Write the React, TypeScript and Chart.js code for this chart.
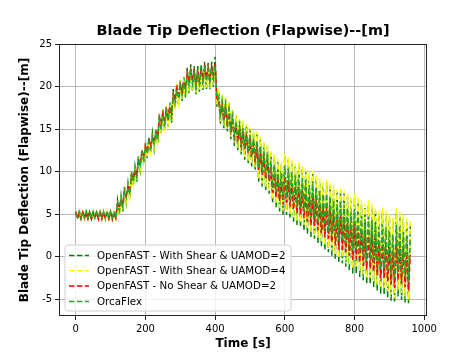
import React, { useEffect, useRef } from "react";
import { Chart, registerables } from "chart.js";

Chart.register(...registerables);

const FONT = "'DejaVu Sans', Verdana, sans-serif";

const TIME = [
  0, 5, 10, 15, 20, 25, 30, 35,
  40, 45, 50, 55, 60, 65, 70, 75,
  80, 85, 90, 95, 100, 105, 110, 115,
  120, 125, 130, 135, 140, 145, 150, 155,
  160, 165, 170, 175, 180, 185, 190, 195,
  200, 205, 210, 215, 220, 225, 230, 235,
  240, 245, 250, 255, 260, 265, 270, 275,
  280, 285, 290, 295, 300, 305, 310, 315,
  320, 325, 330, 335, 340, 345, 350, 355,
  360, 365, 370, 375, 380, 385, 390, 395,
  400, 405, 410, 415, 420, 425, 430, 435,
  440, 445, 450, 455, 460, 465, 470, 475,
  480, 485, 490, 495, 500, 505, 510, 515,
  520, 525, 530, 535, 540, 545, 550, 555,
  560, 565, 570, 575, 580, 585, 590, 595,
  600, 605, 610, 615, 620, 625, 630, 635,
  640, 645, 650, 655, 660, 665, 670, 675,
  680, 685, 690, 695, 700, 705, 710, 715,
  720, 725, 730, 735, 740, 745, 750, 755,
  760, 765, 770, 775, 780, 785, 790, 795,
  800, 805, 810, 815, 820, 825, 830, 835,
  840, 845, 850, 855, 860, 865, 870, 875,
  880, 885, 890, 895, 900, 905, 910, 915,
  920, 925, 930, 935, 940, 945, 950, 955,
  960,
];

const OF_SHEAR_UA2 = [
  5.3, 4.5, 5.4, 4.4, 5.3, 4.5, 5.4, 4.5,
  5.3, 4.4, 5.4, 4.5, 5.3, 4.4, 5.4, 4.5,
  5.3, 4.4, 5.4, 4.5, 5.3, 4.4, 5.4, 4.5,
  6.6, 4.9, 7.1, 5.3, 8.2, 6.4, 8.6, 6.8,
  10.0, 8.3, 10.6, 8.8, 11.8, 10.2, 12.6, 10.9,
  13.4, 11.6, 14.0, 12.2, 14.5, 12.7, 15.0, 13.2,
  16.8, 14.5, 17.3, 14.9, 17.7, 15.3, 18.1, 15.7,
  19.7, 17.4, 20.3, 17.9, 20.7, 18.3, 21.1, 18.7,
  22.2, 19.2, 22.6, 19.4, 22.4, 19.1, 22.4, 19.4,
  22.6, 19.6, 22.9, 19.7, 22.8, 19.6, 22.9, 20.0,
  23.5, 17.6, 19.5, 15.6, 18.9, 15.1, 18.5, 14.7,
  18.0, 13.8, 17.1, 13.0, 16.5, 12.5, 16.0, 12.0,
  15.8, 11.4, 15.4, 11.0, 15.0, 10.6, 14.6, 10.2,
  14.4, 8.8, 13.8, 8.2, 13.3, 7.8, 12.9, 7.4,
  12.2, 6.3, 11.7, 5.8, 11.2, 5.3, 10.8, 4.9,
  11.8, 4.9, 11.4, 4.5, 11.0, 4.1, 10.6, 3.7,
  10.7, 3.5, 10.3, 3.1, 9.9, 2.7, 9.5, 2.3,
  9.7, 2.1, 9.2, 1.6, 8.8, 1.2, 8.4, 0.8,
  8.7, 0.5, 8.3, 0.1, 7.9, -0.3, 7.5, -0.7,
  7.8, -0.8, 7.4, -1.2, 7.0, -1.6, 6.6, -2.0,
  6.9, -2.0, 6.5, -2.4, 6.1, -2.8, 5.7, -3.2,
  6.1, -3.2, 5.7, -3.6, 5.3, -4.0, 4.9, -4.4,
  5.3, -4.4, 4.9, -4.8, 4.5, -5.2, 4.1, -5.3,
  5.2, -4.7, 4.8, -5.1, 4.4, -5.4, 4.0, -5.5,
  3.7,
];

const OF_SHEAR_UA4 = [
  5.2, 4.4, 5.3, 4.5, 5.2, 4.4, 5.3, 4.5,
  5.2, 4.4, 5.3, 4.5, 5.2, 4.4, 5.3, 4.4,
  5.2, 4.5, 5.3, 4.4, 5.2, 4.5, 5.3, 4.4,
  6.1, 5.0, 6.6, 5.4, 7.7, 6.5, 8.1, 6.9,
  9.5, 8.4, 10.1, 8.9, 11.3, 10.3, 12.1, 11.0,
  12.9, 11.7, 13.5, 12.3, 14.0, 12.8, 14.5, 13.3,
  16.2, 14.7, 16.7, 15.1, 17.1, 15.5, 17.5, 15.9,
  19.1, 17.6, 19.7, 18.1, 20.1, 18.5, 20.5, 18.9,
  21.4, 19.4, 21.8, 19.6, 21.6, 19.3, 21.6, 19.6,
  21.8, 19.8, 22.1, 19.9, 22.0, 19.8, 22.1, 20.2,
  22.6, 17.9, 19.7, 15.9, 19.1, 15.4, 18.7, 15.0,
  18.2, 14.1, 17.3, 13.3, 16.7, 12.8, 16.2, 12.3,
  16.0, 11.7, 15.6, 11.3, 15.2, 10.9, 14.8, 10.5,
  14.7, 9.2, 14.1, 8.6, 13.6, 8.2, 13.2, 7.8,
  12.5, 6.8, 12.0, 6.3, 11.5, 5.8, 11.1, 5.4,
  12.1, 5.4, 11.7, 5.0, 11.3, 4.6, 10.9, 4.2,
  11.1, 4.1, 10.7, 3.7, 10.3, 3.3, 9.9, 2.9,
  10.1, 2.7, 9.6, 2.2, 9.2, 1.8, 8.8, 1.4,
  9.1, 1.1, 8.7, 0.7, 8.3, 0.3, 7.9, -0.1,
  8.2, -0.1, 7.8, -0.5, 7.4, -0.9, 7.0, -1.3,
  7.4, -1.3, 7.0, -1.7, 6.6, -2.1, 6.2, -2.5,
  6.6, -2.5, 6.2, -2.9, 5.8, -3.3, 5.4, -3.7,
  5.8, -3.7, 5.4, -4.1, 5.0, -4.5, 4.6, -4.9,
  5.7, -3.9, 5.3, -4.3, 4.9, -4.7, 4.5, -5.1,
  4.2,
];

const OF_NOSHEAR_UA2 = [
  5.2, 4.4, 5.1, 4.4, 5.2, 4.5, 5.1, 4.4,
  5.2, 4.4, 5.1, 4.5, 5.2, 4.4, 5.1, 4.4,
  5.2, 4.5, 5.1, 4.4, 5.2, 4.4, 5.1, 4.5,
  6.2, 5.7, 6.7, 6.1, 7.8, 7.2, 8.2, 7.6,
  9.6, 9.1, 10.2, 9.6, 11.4, 11.0, 12.2, 11.7,
  13.0, 12.4, 13.6, 13.0, 14.1, 13.5, 14.6, 14.0,
  16.3, 15.6, 16.8, 16.0, 17.2, 16.4, 17.6, 16.8,
  19.2, 18.5, 19.8, 19.0, 20.2, 19.4, 20.6, 19.8,
  21.6, 20.5, 22.0, 20.7, 21.8, 20.4, 21.8, 20.7,
  22.0, 20.9, 22.3, 21.0, 22.2, 20.9, 22.3, 21.3,
  22.8, 18.6, 18.4, 16.6, 17.8, 16.0, 17.4, 15.6,
  16.9, 14.8, 15.9, 14.0, 15.3, 13.5, 14.8, 13.0,
  14.5, 12.5, 14.1, 12.1, 13.7, 11.7, 13.3, 11.3,
  12.8, 10.2, 12.2, 9.6, 11.7, 9.2, 11.3, 8.8,
  10.2, 7.5, 9.7, 7.0, 9.2, 6.5, 8.8, 6.1,
  9.4, 6.3, 9.0, 5.9, 8.6, 5.5, 8.2, 5.1,
  8.2, 4.9, 7.8, 4.5, 7.4, 4.1, 7.0, 3.7,
  7.1, 3.6, 6.6, 3.1, 6.2, 2.7, 5.8, 2.3,
  5.8, 2.1, 5.4, 1.7, 5.0, 1.3, 4.6, 0.9,
  4.8, 0.9, 4.4, 0.5, 4.0, 0.1, 3.6, -0.4,
  3.8, -0.3, 3.4, -0.7, 3.0, -1.1, 2.6, -1.5,
  2.9, -1.4, 2.5, -1.8, 2.1, -2.2, 1.7, -2.6,
  1.9, -2.5, 1.5, -2.9, 1.1, -3.3, 0.7, -3.7,
  1.7, -2.8, 1.3, -3.2, 0.9, -3.6, 0.5, -4.0,
  0.2,
];

const ORCAFLEX = [
  5.0, 4.6, 5.3, 4.5, 5.2, 4.6, 5.3, 4.5,
  5.2, 4.6, 5.3, 4.5, 5.2, 4.6, 5.3, 4.5,
  5.2, 4.6, 5.3, 4.5, 5.2, 4.6, 5.3, 4.5,
  6.1, 5.4, 6.6, 5.8, 7.7, 6.9, 8.1, 7.3,
  9.5, 8.8, 10.1, 9.3, 11.3, 10.7, 12.1, 11.4,
  12.9, 12.1, 13.5, 12.7, 14.0, 13.2, 14.5, 13.7,
  16.1, 15.2, 16.6, 15.6, 17.0, 16.0, 17.4, 16.4,
  19.0, 18.1, 19.6, 18.6, 20.0, 19.0, 20.4, 19.4,
  21.4, 20.1, 21.8, 20.3, 21.6, 20.0, 21.6, 20.3,
  21.8, 20.5, 22.1, 20.6, 22.0, 20.5, 22.1, 20.9,
  22.5, 18.7, 18.9, 16.7, 18.3, 16.2, 17.9, 15.8,
  17.4, 15.0, 16.5, 14.2, 15.9, 13.7, 15.4, 13.2,
  15.1, 12.7, 14.7, 12.3, 14.3, 11.9, 13.9, 11.5,
  13.6, 10.5, 13.0, 9.9, 12.5, 9.5, 12.1, 9.1,
  11.3, 8.1, 10.8, 7.6, 10.3, 7.1, 9.9, 6.7,
  10.7, 7.0, 10.3, 6.6, 9.9, 6.2, 9.5, 5.8,
  9.6, 5.7, 9.2, 5.3, 8.8, 4.9, 8.4, 4.5,
  8.6, 4.5, 8.1, 4.0, 7.7, 3.6, 7.3, 3.2,
  7.4, 3.0, 7.0, 2.6, 6.6, 2.2, 6.2, 1.8,
  6.5, 1.9, 6.1, 1.5, 5.7, 1.1, 5.3, 0.7,
  5.6, 0.8, 5.2, 0.4, 4.8, -0.1, 4.4, -0.5,
  4.7, -0.3, 4.3, -0.7, 3.9, -1.1, 3.5, -1.5,
  3.8, -1.4, 3.4, -1.8, 3.0, -2.2, 2.6, -2.6,
  3.7, -1.7, 3.3, -2.1, 2.9, -2.5, 2.5, -2.9,
  2.2,
];

const X_TICKS = [0, 200, 400, 600, 800, 1000];
const Y_TICKS = [-5, 0, 5, 10, 15, 20, 25];

const TITLE = "Blade Tip Deflection (Flapwise)--[m]";
const X_TITLE = "Time [s]";
const Y_TITLE = "Blade Tip Deflection (Flapwise)--[m]";

const SERIES_LABELS = [
  "OpenFAST - With Shear & UAMOD=2",
  "OpenFAST - With Shear & UAMOD=4",
  "OpenFAST - No Shear & UAMOD=2",
  "OrcaFlex",
];
const SERIES_COLORS = ["#008000", "#ffff00", "#ff0000", "#2ca02c"];
const SERIES_VALUES = [OF_SHEAR_UA2, OF_SHEAR_UA4, OF_NOSHEAR_UA2, ORCAFLEX];

const DASH = [5.5, 2.4];

const framePlugin = {
  id: "frame",
  afterDatasetsDraw(chart: any) {
    const { ctx, chartArea } = chart;
    ctx.save();
    ctx.strokeStyle = "#222";
    ctx.lineWidth = 1;
    ctx.strokeRect(
      Math.round(chartArea.left) + 0.5,
      Math.round(chartArea.top) + 0.5,
      Math.round(chartArea.right - chartArea.left) - 1,
      Math.round(chartArea.bottom - chartArea.top) - 1
    );
    ctx.restore();
  },
};

const titlePlugin = {
  id: "centeredTitle",
  afterDraw(chart: any) {
    const { ctx, chartArea } = chart;
    ctx.save();
    ctx.font = `bold 14.4px ${FONT}`;
    ctx.fillStyle = "#000";
    ctx.textAlign = "center";
    ctx.textBaseline = "middle";
    ctx.fillText(TITLE, (chartArea.left + chartArea.right) / 2, 31);
    ctx.restore();
  },
};

const legendPlugin = {
  id: "insideLegend",
  afterDraw(chart: any) {
    const { ctx, chartArea } = chart;
    const x0 = chartArea.left + 6;
    const y1 = chartArea.bottom - 5;
    const w = 226;
    const h = 66;
    const y0 = y1 - h;
    ctx.save();
    ctx.beginPath();
    const r = 3;
    ctx.moveTo(x0 + r, y0);
    ctx.lineTo(x0 + w - r, y0);
    ctx.quadraticCurveTo(x0 + w, y0, x0 + w, y0 + r);
    ctx.lineTo(x0 + w, y1 - r);
    ctx.quadraticCurveTo(x0 + w, y1, x0 + w - r, y1);
    ctx.lineTo(x0 + r, y1);
    ctx.quadraticCurveTo(x0, y1, x0, y1 - r);
    ctx.lineTo(x0, y0 + r);
    ctx.quadraticCurveTo(x0, y0, x0 + r, y0);
    ctx.closePath();
    ctx.fillStyle = "rgba(255,255,255,0.8)";
    ctx.fill();
    ctx.strokeStyle = "#d0d0d0";
    ctx.lineWidth = 1;
    ctx.stroke();

    const datasets = chart.data.datasets;
    ctx.font = `10.3px ${FONT}`;
    ctx.textBaseline = "middle";
    ctx.textAlign = "left";
    datasets.forEach((ds: any, i: number) => {
      const cy = y0 + 10.5 + i * 15.3;
      ctx.beginPath();
      ctx.setLineDash(DASH);
      ctx.strokeStyle = ds.borderColor;
      ctx.lineWidth = 1.5;
      ctx.moveTo(x0 + 4, cy);
      ctx.lineTo(x0 + 24, cy);
      ctx.stroke();
      ctx.setLineDash([]);
      ctx.fillStyle = "#000";
      ctx.fillText(ds.label, x0 + 32, cy + 0.5);
    });
    ctx.restore();
  },
};

export default function App() {
  const ref = useRef<HTMLCanvasElement | null>(null);

  useEffect(() => {
    document.body.style.margin = "0";
    const canvas = ref.current;
    if (!canvas) return;
    const datasets = SERIES_VALUES.map((vals, k) => ({
      label: SERIES_LABELS[k],
      data: TIME.map((t, i) => ({ x: t, y: vals[i] })),
      borderColor: SERIES_COLORS[k],
      backgroundColor: SERIES_COLORS[k],
      borderWidth: 1.5,
      borderDash: DASH,
      pointRadius: 0,
      fill: false,
      tension: 0,
      order: SERIES_VALUES.length - k,
    }));
    const chart = new Chart(canvas, {
      type: "line",
      data: { datasets },
      options: {
        animation: false,
        responsive: false,
        maintainAspectRatio: false,
        events: [],
        layout: { padding: { left: 0, right: 47, top: 44, bottom: 0 } },
        plugins: {
          legend: { display: false },
          tooltip: { enabled: false },
          title: { display: false },
        },
        scales: {
          x: {
            type: "linear",
            min: -48,
            max: 1008,
            afterBuildTicks: (s: any) => {
              s.ticks = X_TICKS.map((v) => ({ value: v }));
            },
            afterFit: (s: any) => {
              s.height = 39;
            },
            grid: {
              color: "#b8b8b8",
              lineWidth: 1,
              tickColor: "#222",
              tickLength: 4,
            },
            border: { display: false },
            ticks: {
              color: "#000",
              font: { family: FONT, size: 10 },
              padding: 3,
              maxRotation: 0,
              autoSkip: false,
              callback: (v: any) => String(v),
            },
            title: {
              display: true,
              text: X_TITLE,
              color: "#000",
              font: { family: FONT, size: 12, weight: "bold" },
              padding: { top: 0, bottom: 4 },
            },
          },
          y: {
            type: "linear",
            min: -7,
            max: 25,
            afterBuildTicks: (s: any) => {
              s.ticks = Y_TICKS.map((v) => ({ value: v }));
            },
            afterFit: (s: any) => {
              s.width = 59;
            },
            grid: {
              color: "#b8b8b8",
              lineWidth: 1,
              tickColor: "#222",
              tickLength: 4,
            },
            border: { display: false },
            ticks: {
              color: "#000",
              font: { family: FONT, size: 10 },
              padding: 3,
              autoSkip: false,
              callback: (v: any) => String(v),
            },
            title: {
              display: true,
              text: Y_TITLE,
              color: "#000",
              font: { family: FONT, size: 12, weight: "bold" },
              padding: { top: 18, bottom: 0 },
            },
          },
        },
      },
      plugins: [framePlugin, titlePlugin, legendPlugin],
    });
    return () => chart.destroy();
  }, []);

  return (
    <div style={{ width: 474, height: 355 }}>
      <canvas ref={ref} width={474} height={355} style={{ width: 474, height: 355, display: "block" }} />
    </div>
  );
}
